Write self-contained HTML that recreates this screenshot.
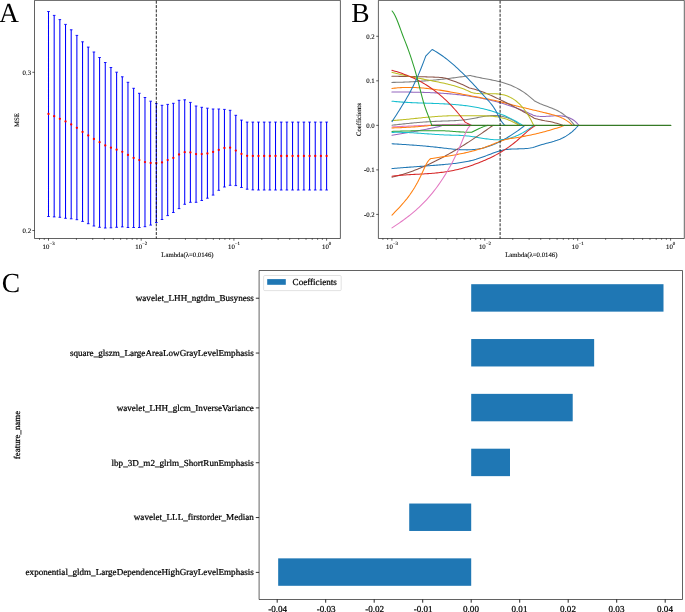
<!DOCTYPE html>
<html><head><meta charset="utf-8"><style>
html,body{margin:0;padding:0;background:#fff;}
body{width:685px;height:612px;overflow:hidden;font-family:"Liberation Serif",serif;}
svg{display:block;} text{-webkit-font-smoothing:antialiased;}
</style></head><body>
<svg style="will-change:transform" text-rendering="geometricPrecision" width="685" height="612" viewBox="0 0 685 612">
<rect width="685" height="612" fill="#fff"/>
<path d="M48.5 11.5V216.5M54.18 15.4V216.9M59.85 19.6V217.3M65.53 24.4V218.3M71.2 29.8V218.8M76.88 35.4V219.7M82.55 41.8V221.4M88.23 47.1V223.7M93.9 52V226M99.58 57.5V227.3M105.26 62.5V228M110.93 67.5V227.8M116.61 72.2V227.3M122.28 76.8V226.9M127.96 82.3V227.5M133.63 88.3V227.5M139.31 93.3V227.5M144.98 97.5V226.7M150.66 101.2V225.1M156.33 103.6V222.5M162.01 105.3V219.5M167.69 104.4V215.6M173.36 103.3V212.5M179.04 100.3V208.6M184.71 99.8V204.3M190.39 102.4V202.3M196.06 106V202.3M201.74 107.3V200.5M207.41 108.2V198.2M213.09 109V195.1M218.77 109V190.3M224.44 109.4V187M230.12 110.3V185.3M235.79 115.3V185.6M241.47 120.1V187.5M247.14 122.1V189.2M252.82 122.1V189.9M258.49 122.1V190M264.17 122.1V190M269.84 122.1V190M275.52 122.1V190M281.2 122.1V190M286.87 122.1V190M292.55 122.1V190M298.22 122.1V190M303.9 122.1V190M309.57 122.1V190M315.25 122.1V190M320.92 122.1V190M326.6 122.1V190" stroke="#0000ff" stroke-width="1.05" fill="none"/>
<path d="M47.2 11.5h2.6M47.2 216.5h2.6M52.88 15.4h2.6M52.88 216.9h2.6M58.55 19.6h2.6M58.55 217.3h2.6M64.23 24.4h2.6M64.23 218.3h2.6M69.9 29.8h2.6M69.9 218.8h2.6M75.58 35.4h2.6M75.58 219.7h2.6M81.25 41.8h2.6M81.25 221.4h2.6M86.93 47.1h2.6M86.93 223.7h2.6M92.6 52h2.6M92.6 226h2.6M98.28 57.5h2.6M98.28 227.3h2.6M103.96 62.5h2.6M103.96 228h2.6M109.63 67.5h2.6M109.63 227.8h2.6M115.31 72.2h2.6M115.31 227.3h2.6M120.98 76.8h2.6M120.98 226.9h2.6M126.66 82.3h2.6M126.66 227.5h2.6M132.33 88.3h2.6M132.33 227.5h2.6M138.01 93.3h2.6M138.01 227.5h2.6M143.68 97.5h2.6M143.68 226.7h2.6M149.36 101.2h2.6M149.36 225.1h2.6M155.03 103.6h2.6M155.03 222.5h2.6M160.71 105.3h2.6M160.71 219.5h2.6M166.39 104.4h2.6M166.39 215.6h2.6M172.06 103.3h2.6M172.06 212.5h2.6M177.74 100.3h2.6M177.74 208.6h2.6M183.41 99.8h2.6M183.41 204.3h2.6M189.09 102.4h2.6M189.09 202.3h2.6M194.76 106h2.6M194.76 202.3h2.6M200.44 107.3h2.6M200.44 200.5h2.6M206.11 108.2h2.6M206.11 198.2h2.6M211.79 109h2.6M211.79 195.1h2.6M217.47 109h2.6M217.47 190.3h2.6M223.14 109.4h2.6M223.14 187h2.6M228.82 110.3h2.6M228.82 185.3h2.6M234.49 115.3h2.6M234.49 185.6h2.6M240.17 120.1h2.6M240.17 187.5h2.6M245.84 122.1h2.6M245.84 189.2h2.6M251.52 122.1h2.6M251.52 189.9h2.6M257.19 122.1h2.6M257.19 190h2.6M262.87 122.1h2.6M262.87 190h2.6M268.54 122.1h2.6M268.54 190h2.6M274.22 122.1h2.6M274.22 190h2.6M279.9 122.1h2.6M279.9 190h2.6M285.57 122.1h2.6M285.57 190h2.6M291.25 122.1h2.6M291.25 190h2.6M296.92 122.1h2.6M296.92 190h2.6M302.6 122.1h2.6M302.6 190h2.6M308.27 122.1h2.6M308.27 190h2.6M313.95 122.1h2.6M313.95 190h2.6M319.62 122.1h2.6M319.62 190h2.6M325.3 122.1h2.6M325.3 190h2.6" stroke="#0000ff" stroke-width="0.9" fill="none"/>
<circle cx="48.5" cy="114" r="1.15" fill="#ff0000"/>
<circle cx="54.18" cy="116.2" r="1.15" fill="#ff0000"/>
<circle cx="59.85" cy="118.8" r="1.15" fill="#ff0000"/>
<circle cx="65.53" cy="121.4" r="1.15" fill="#ff0000"/>
<circle cx="71.2" cy="124.4" r="1.15" fill="#ff0000"/>
<circle cx="76.88" cy="127.8" r="1.15" fill="#ff0000"/>
<circle cx="82.55" cy="131.9" r="1.15" fill="#ff0000"/>
<circle cx="88.23" cy="135.4" r="1.15" fill="#ff0000"/>
<circle cx="93.9" cy="139" r="1.15" fill="#ff0000"/>
<circle cx="99.58" cy="142.2" r="1.15" fill="#ff0000"/>
<circle cx="105.26" cy="145.4" r="1.15" fill="#ff0000"/>
<circle cx="110.93" cy="147.7" r="1.15" fill="#ff0000"/>
<circle cx="116.61" cy="149.7" r="1.15" fill="#ff0000"/>
<circle cx="122.28" cy="151.8" r="1.15" fill="#ff0000"/>
<circle cx="127.96" cy="154.9" r="1.15" fill="#ff0000"/>
<circle cx="133.63" cy="157.9" r="1.15" fill="#ff0000"/>
<circle cx="139.31" cy="160.1" r="1.15" fill="#ff0000"/>
<circle cx="144.98" cy="162.1" r="1.15" fill="#ff0000"/>
<circle cx="150.66" cy="163" r="1.15" fill="#ff0000"/>
<circle cx="156.33" cy="163.1" r="1.15" fill="#ff0000"/>
<circle cx="162.01" cy="162.4" r="1.15" fill="#ff0000"/>
<circle cx="167.69" cy="160.1" r="1.15" fill="#ff0000"/>
<circle cx="173.36" cy="157.9" r="1.15" fill="#ff0000"/>
<circle cx="179.04" cy="154.5" r="1.15" fill="#ff0000"/>
<circle cx="184.71" cy="152.2" r="1.15" fill="#ff0000"/>
<circle cx="190.39" cy="152.4" r="1.15" fill="#ff0000"/>
<circle cx="196.06" cy="154.1" r="1.15" fill="#ff0000"/>
<circle cx="201.74" cy="154.1" r="1.15" fill="#ff0000"/>
<circle cx="207.41" cy="153.5" r="1.15" fill="#ff0000"/>
<circle cx="213.09" cy="151.9" r="1.15" fill="#ff0000"/>
<circle cx="218.77" cy="149.9" r="1.15" fill="#ff0000"/>
<circle cx="224.44" cy="148" r="1.15" fill="#ff0000"/>
<circle cx="230.12" cy="147.7" r="1.15" fill="#ff0000"/>
<circle cx="235.79" cy="150.6" r="1.15" fill="#ff0000"/>
<circle cx="241.47" cy="153.9" r="1.15" fill="#ff0000"/>
<circle cx="247.14" cy="155.8" r="1.15" fill="#ff0000"/>
<circle cx="252.82" cy="155.9" r="1.15" fill="#ff0000"/>
<circle cx="258.49" cy="156" r="1.15" fill="#ff0000"/>
<circle cx="264.17" cy="156" r="1.15" fill="#ff0000"/>
<circle cx="269.84" cy="156" r="1.15" fill="#ff0000"/>
<circle cx="275.52" cy="156" r="1.15" fill="#ff0000"/>
<circle cx="281.2" cy="156" r="1.15" fill="#ff0000"/>
<circle cx="286.87" cy="156" r="1.15" fill="#ff0000"/>
<circle cx="292.55" cy="156" r="1.15" fill="#ff0000"/>
<circle cx="298.22" cy="156" r="1.15" fill="#ff0000"/>
<circle cx="303.9" cy="156" r="1.15" fill="#ff0000"/>
<circle cx="309.57" cy="156" r="1.15" fill="#ff0000"/>
<circle cx="315.25" cy="156" r="1.15" fill="#ff0000"/>
<circle cx="320.92" cy="156" r="1.15" fill="#ff0000"/>
<circle cx="326.6" cy="156" r="1.15" fill="#ff0000"/>
<line x1="156.3" y1="0.7" x2="156.3" y2="238.5" stroke="#000" stroke-width="0.85" stroke-dasharray="3.0 1.365"/>
<path d="M34.5 0.4H340.4V238.5H34.5Z" fill="none" stroke="#000" stroke-width="0.62"/>
<path d="M39.52 238.5v1.3M44.26 238.5v1.3M48.5 238.5v2.2M76.41 238.5v1.3M92.73 238.5v1.3M104.31 238.5v1.3M113.29 238.5v1.3M120.63 238.5v1.3M126.84 238.5v1.3M132.22 238.5v1.3M136.96 238.5v1.3M141.2 238.5v2.2M169.11 238.5v1.3M185.43 238.5v1.3M197.01 238.5v1.3M205.99 238.5v1.3M213.33 238.5v1.3M219.54 238.5v1.3M224.92 238.5v1.3M229.66 238.5v1.3M233.9 238.5v2.2M261.81 238.5v1.3M278.13 238.5v1.3M289.71 238.5v1.3M298.69 238.5v1.3M306.03 238.5v1.3M312.24 238.5v1.3M317.62 238.5v1.3M322.36 238.5v1.3M326.6 238.5v2.2M34.5 72.3h-2.2M34.5 230.5h-2.2" stroke="#000" stroke-width="0.62" fill="none"/>
<g font-family="Liberation Serif" fill="#000" stroke="#000" stroke-width="0.1" paint-order="stroke">
<text x="31" y="74.6" font-size="6.75" text-anchor="end" >0.3</text>
<text x="31" y="232.8" font-size="6.75" text-anchor="end" >0.2</text>
<text x="48.6" y="248.7" font-size="6.8" text-anchor="middle">10<tspan dy="-4.0" font-size="4.9">−3</tspan></text>
<text x="141.3" y="248.7" font-size="6.8" text-anchor="middle">10<tspan dy="-4.0" font-size="4.9">−2</tspan></text>
<text x="234" y="248.7" font-size="6.8" text-anchor="middle">10<tspan dy="-4.0" font-size="4.9">−1</tspan></text>
<text x="326.7" y="248.7" font-size="6.8" text-anchor="middle">10<tspan dy="-4.0" font-size="4.9">0</tspan></text>
<text x="187.5" y="256.6" font-size="6.75" text-anchor="middle" >Lambda(λ=0.0146)</text>
<text transform="translate(19.3 120.1) rotate(-90)" font-size="6.75" text-anchor="middle">MSE</text>
</g>
<g fill="none" stroke-width="1.05" stroke-linejoin="round" stroke-linecap="round">
<path d="M392 125.2 393.5 125.03 395 124.86 396.5 124.7 398 124.53 399.5 124.37 401 124.2 402.5 124.04 404 123.89 405.5 123.73 407 123.58 408.5 123.42 410 123.28 411.5 123.13 413 122.99 414.5 122.85 416 122.71 417.5 122.58 419 122.46 420.5 122.33 422 122.21 423.5 122.1 425 121.99 426.5 121.88 428 121.78 429.5 121.69 431 121.6 432.5 121.51 434 121.43 435.5 121.36 437 121.29 438.5 121.23 440 121.17 441.5 121.12 443 121.07 444.5 121.03 446 120.98 447.5 120.93 449 120.88 450.5 120.82 452 120.75 453.5 120.68 455 120.61 456.5 120.52 458 120.42 459.5 120.3 461 120.18 462.5 120.03 464 119.87 465.5 119.69 467 119.5 468.5 119.28 470 119.04 471.5 118.77 473 118.5 474.5 118.21 476 117.92 477.5 117.62 479 117.32 480.5 117.04 482 116.76 483.5 116.5 485 116.26 486.5 116.04 488 115.86 489.5 115.71 491 115.59 492.5 115.52 494 115.5 495.5 115.52 497 115.61 498.5 115.74 500 115.94 501.5 116.2 503 116.52 504.5 116.9 506 117.35 507.5 117.86 509 118.44 510.5 119.1 512 119.82 513.5 120.62 515 121.49 516.5 122.44 518 123.46 519.5 124.57 520.5 125.35" stroke="#7f7f7f"/>
<path d="M392 120.6 393.5 120.49 395 120.38 396.5 120.26 398 120.14 399.5 120.01 401 119.87 402.5 119.74 404 119.59 405.5 119.45 407 119.3 408.5 119.15 410 118.99 411.5 118.84 413 118.68 414.5 118.52 416 118.37 417.5 118.21 419 118.06 420.5 117.9 422 117.75 423.5 117.6 425 117.45 426.5 117.31 428 117.17 429.5 117.03 431 116.9 432.5 116.77 434 116.65 435.5 116.54 437 116.43 438.5 116.33 440 116.23 441.5 116.15 443 116.07 444.5 116 446 115.94 447.5 115.88 449 115.84 450.5 115.8 452 115.76 453.5 115.74 455 115.71 456.5 115.7 458 115.69 459.5 115.68 461 115.67 462.5 115.67 464 115.68 465.5 115.69 467 115.69 468.5 115.71 470 115.72 471.5 115.73 473 115.75 474.5 115.76 476 115.78 477.5 115.8 479 115.81 480.5 115.83 482 115.84 483.5 115.86 485 115.89 486.5 115.93 488 115.98 489.5 116.05 491 116.15 492.5 116.27 494 116.43 495.5 116.61 497 116.84 498.5 117.1 500 117.4 501.5 117.75 503 118.14 504.5 118.57 506 119.05 507.5 119.58 509 120.15 510.5 120.78 512 121.46 513.5 122.19 515 122.97 516.5 123.82 518 124.72 519 125.35" stroke="#bcbd22"/>
<path d="M392 126.9 393.5 126.83 395 126.75 396.5 126.68 398 126.61 399.5 126.53 401 126.46 402.5 126.39 404 126.32 405.5 126.25 407 126.18 408.5 126.11 410 126.04 411.5 125.97 413 125.91 414.5 125.84 416 125.77 417.5 125.71 419 125.64 420 125.6 420.5 125.58 422 125.51 423.5 125.44 425 125.37 426.5 125.3 428 125.23 429.5 125.16 431 125.09 432.5 125.02 434 124.96 435.5 124.9 437 124.84 438.5 124.78 440 124.73 441.5 124.68 443 124.64 444.5 124.61 445 124.6 446 124.58 447.5 124.55 449 124.53 450.5 124.5 452 124.47 453.5 124.45 455 124.42 456.5 124.4 458 124.38 459.5 124.36 461 124.35 462.5 124.33 464 124.32 465.5 124.31 467 124.3 468.5 124.3 469.4 124.3 470 124.39 471.5 125.1 472 125.35" stroke="#e377c2"/>
<path d="M392 127.9 393.5 127.88 395 127.84 396.5 127.8 398 127.75 399.5 127.7 401 127.64 402.5 127.57 404 127.5 405.5 127.42 407 127.34 408.5 127.26 410 127.17 411.5 127.07 413 126.98 414.5 126.88 416 126.78 417.5 126.67 419 126.57 420 126.5 420.5 126.46 422 126.34 423.5 126.21 425 126.06 426.5 125.9 428 125.74 429.5 125.57 431 125.4 431.4 125.35" stroke="#ff7f0e"/>
<path d="M392 135.3 393.5 135.07 395 134.83 396.5 134.59 398 134.34 399.5 134.09 401 133.84 402.5 133.58 404 133.33 405.5 133.06 407 132.8 408.5 132.53 410 132.26 411.5 131.99 413 131.72 414.5 131.44 416 131.16 417.5 130.88 419 130.59 420 130.4 420.5 130.3 422 130.02 423.5 129.74 425 129.46 426.5 129.18 428 128.89 429.5 128.61 431 128.31 432.5 128 434 127.69 435.5 127.36 437 127.01 438.5 126.65 440 126.27 441 126 441.5 125.85 443 125.35" stroke="#9467bd"/>
<path d="M392 131.4 393.5 131.35 395 131.3 396.5 131.25 398 131.21 399.5 131.16 401 131.12 402.5 131.07 404 131.03 405.5 130.99 407 130.96 408.5 130.93 410 130.9 411.5 130.87 413 130.85 414.5 130.83 416 130.82 417.5 130.81 419 130.8 420 130.8 420.5 130.8 422 130.8 423.5 130.8 425 130.8 426.5 130.8 428 130.8 429.5 130.8 431 130.8 432.5 130.8 434 130.8 435.5 130.8 437 130.8 438.5 130.8 440 130.8 441.5 130.8 441.9 130.8 443 130.81 444.5 130.84 446 130.9 447.5 130.98 449 131.07 450.5 131.18 452 131.29 453.5 131.41 455 131.53 456.5 131.65 458 131.77 459.5 131.88 461 131.97 462.5 132.05 463.8 132.1 464 132.11 465.5 132.15 467 132.2 468.5 132.24 470 132.27 471.5 132.3 471.7 132.3 473.2 131.49 474.7 130.71 476.2 129.96 477.7 129.24 479.2 128.55 480 128.2 480.7 127.89 482.2 127.24 483.7 126.62 485.2 126.08 486.1 125.8 486.7 125.64 488 125.35" stroke="#2ca02c"/>
<path d="M392 132.4 393.5 132.36 395 132.34 396.5 132.32 398 132.32 399.5 132.33 401 132.35 402.5 132.38 404 132.43 405.5 132.47 407 132.53 408.5 132.6 410 132.67 411.5 132.75 413 132.84 414.5 132.93 416 133.02 417.5 133.12 419 133.22 420.5 133.33 422 133.44 423.5 133.55 425 133.66 426.5 133.77 428 133.88 429.5 133.99 431 134.1 432.5 134.2 434 134.31 435.5 134.41 437 134.5 438.5 134.6 440 134.68 441.5 134.77 443 134.84 444.5 134.91 446 134.97 447.5 135.02 449 135.07 450.5 135.11 452 135.15 453.5 135.19 455 135.24 456.5 135.28 458 135.33 459.5 135.39 461 135.47 462.5 135.55 464 135.65 465.5 135.76 467 135.9 468.5 136.05 470 136.23 471.5 136.43 473 136.65 474.5 136.89 476 137.13 477.5 137.39 479 137.65 480.5 137.91 482 138.17 483.5 138.42 485 138.66 486.5 138.88 488 139.09 489.5 139.28 491 139.44 492.5 139.57 494 139.67 495.5 139.73 497 139.75 498.5 139.73 500 139.67 501.5 139.57 503 139.42 504.5 139.22 506 138.98 507.5 138.69 509 138.35 510.5 137.95 512 137.5 513.5 137 515 136.45 516.5 135.83 518 135.17 519.5 134.45 521 133.68 522.5 132.87 524 132.01 525.5 131.1 527 130.16 528.5 129.18 530 128.17 531.5 127.13 533 126.07 534 125.34" stroke="#17becf"/>
<path d="M392 143.8 393.5 143.88 395 143.97 396.5 144.05 398 144.14 399.5 144.23 401 144.32 402.5 144.41 404 144.5 405.5 144.6 407 144.7 408.5 144.8 410 144.9 411.5 145.01 413 145.12 414.5 145.23 416 145.35 417.5 145.46 419 145.58 420.5 145.71 422 145.83 423.5 145.96 425 146.1 426.5 146.23 428 146.37 429.5 146.52 431 146.66 432.5 146.81 434 146.97 435.5 147.13 437 147.29 438.5 147.45 440 147.62 441.5 147.8 443 147.97 444.5 148.15 446 148.33 447.5 148.5 449 148.67 450.5 148.84 452 149 453.5 149.15 455 149.29 456.5 149.42 458 149.53 459.5 149.63 461 149.71 462.5 149.78 464 149.82 465.5 149.85 467 149.85 468.5 149.82 470 149.77 471.5 149.7 473 149.59 474.5 149.45 476 149.28 477.5 149.08 479 148.84 480.5 148.56 482 148.25 483.5 147.89 485 147.5 486.5 147.07 488 146.6 489.5 146.09 491 145.55 492.5 144.98 494 144.37 495.5 143.73 497 143.05 498.5 142.34 500 141.6 501.5 140.83 503 140.04 504.5 139.21 506 138.35 507.5 137.47 509 136.55 510.5 135.62 512 134.65 513.5 133.67 515 132.65 516.5 131.62 518 130.56 519.5 129.48 521 128.38 522.5 127.26 524 126.12 525 125.35" stroke="#1f77b4"/>
<path d="M392 168.6 393.5 168.46 395 168.33 396.5 168.2 398 168.08 399.5 167.95 401 167.83 402.5 167.71 404 167.59 405.5 167.47 407 167.36 408.5 167.24 410 167.13 411.5 167.02 413 166.91 414.5 166.8 416 166.69 417.5 166.58 419 166.47 420.5 166.37 422 166.26 423.5 166.15 425 166.04 426.5 165.93 428 165.82 429.5 165.7 431 165.59 432.5 165.47 434 165.36 435.5 165.24 437 165.12 438.5 165 440 164.87 441.5 164.74 443 164.61 444.5 164.48 446 164.34 447.5 164.2 449 164.06 450.5 163.91 452 163.75 453.5 163.58 455 163.41 456.5 163.22 458 163.02 459.5 162.81 461 162.58 462.5 162.34 464 162.08 465.5 161.81 467 161.52 468.5 161.2 470 160.87 471.5 160.52 473 160.14 474.5 159.73 476 159.31 477.5 158.85 479 158.37 480.5 157.86 482 157.32 483.5 156.77 485 156.2 486.5 155.62 488 155.04 489.5 154.46 491 153.89 492.5 153.32 494 152.77 495.5 152.25 497 151.75 498.5 151.28 500 150.84 501.5 150.45 503 150.1 504.5 149.81 506 149.57 507.5 149.38 509 149.23 510.5 149.11 512 149.03 513.5 148.97 515 148.93 516.5 148.9 518 148.87 519.5 148.84 521 148.8 522.5 148.75 524 148.68 525.5 148.58 527 148.45 528.5 148.28 530 148.06 531.5 147.79 533 147.46 534.5 147.07 536 146.61 537.5 146.12 539 145.6 540.5 145.08 542 144.59 543.5 144.14 545 143.72 546.5 143.32 548 142.94 549.5 142.55 551 142.15 552.5 141.73 554 141.29 555.5 140.81 557 140.3 558.5 139.75 560 139.15 561.5 138.49 563 137.77 564.5 136.98 566 136.12 567.5 135.18 569 134.15 570.5 133.03 572 131.81 573.5 130.49 575 129.05 576.5 127.5 578 125.82 578.4 125.35" stroke="#1f77b4"/>
<path d="M392 177.2 393.5 176.85 395 176.48 396.5 176.1 398 175.71 399.5 175.29 401 174.86 402.5 174.42 404 173.96 405.5 173.48 407 172.99 408.5 172.49 410 171.97 411.5 171.44 413 170.89 414.5 170.33 416 169.75 417.5 169.16 419 168.56 420.5 167.94 422 167.31 423.5 166.67 425 166.02 426.5 165.35 428 164.67 429.5 163.97 431 163.27 432.5 162.55 434 161.82 435.5 161.08 437 160.32 438.5 159.56 440 158.78 441.5 157.99 443 157.19 444.5 156.38 446 155.56 447.5 154.73 449 153.89 450.5 153.04 452 152.18 453.5 151.31 455 150.43 456.5 149.54 458 148.64 459.5 147.73 461 146.81 462.5 145.88 464 144.94 465.5 144 467 143.05 468.5 142.08 470 141.12 471.5 140.14 473 139.15 474.5 138.16 476 137.16 477.5 136.15 479 135.14 480.5 134.11 482 133.09 483.5 132.05 485 131.01 486.5 129.96 488 128.91 489.5 127.84 491 126.78 492.5 125.71 493 125.35" stroke="#8c564b"/>
<path d="M392 176.2 393.5 176.01 395 175.84 396.5 175.68 398 175.53 399.5 175.39 401 175.26 402.5 175.14 404 175.03 405.5 174.92 407 174.82 408.5 174.72 410 174.63 411.5 174.55 413 174.46 414.5 174.38 416 174.3 417.5 174.23 419 174.15 420.5 174.07 422 173.98 423.5 173.9 425 173.81 426.5 173.72 428 173.62 429.5 173.52 431 173.41 432.5 173.29 434 173.17 435.5 173.03 437 172.89 438.5 172.74 440 172.57 441.5 172.39 443 172.2 444.5 172 446 171.78 447.5 171.54 449 171.29 450.5 171.02 452 170.73 453.5 170.43 455 170.11 456.5 169.77 458 169.41 459.5 169.03 461 168.64 462.5 168.22 464 167.8 465.5 167.35 467 166.89 468.5 166.41 470 165.92 471.5 165.41 473 164.89 474.5 164.35 476 163.8 477.5 163.23 479 162.65 480.5 162.05 482 161.44 483.5 160.82 485 160.18 486.5 159.52 488 158.84 489.5 158.15 491 157.43 492.5 156.69 494 155.93 495.5 155.15 497 154.34 498.5 153.5 500 152.64 501.5 151.74 503 150.82 504.5 149.87 506 148.89 507.5 147.87 509 146.82 510.5 145.74 512 144.62 513.5 143.46 515 142.27 516.5 141.03 518 139.76 519.5 138.44 521 137.1 522.5 135.74 524 134.38 525.5 133.03 527 131.72 528.5 130.45 530 129.25 531.5 128.12 533 127.08 534.5 126.16 536 125.35" stroke="#d62728"/>
<path d="M392 215.1 393.5 213.54 395 211.99 396.5 210.44 398 208.87 399.5 207.28 401 205.65 402.5 203.97 404 202.24 405.5 200.44 407 198.57 408.5 196.6 410 194.54 411.5 192.37 413 190.08 414.5 187.66 416 185.1 417.5 182.39 419 179.51 420.5 176.47 422 173.25 423.5 169.93 425 166.7 426.5 163.76 428 161.29 429.5 159.49 431 158.54 432.1 158.5 433.6 158.26 435.1 158.02 436.6 157.79 438.1 157.56 439.6 157.32 441.1 157.09 442.6 156.86 444.1 156.63 445.6 156.4 447.1 156.16 448.6 155.92 450.1 155.68 451.6 155.43 453.1 155.18 454.6 154.92 456.1 154.66 457.6 154.38 459.1 154.1 460.6 153.81 462.1 153.51 463.6 153.2 465.1 152.88 466.6 152.55 468.1 152.2 469.6 151.84 471.1 151.47 472.6 151.08 474.1 150.68 475.6 150.26 477.1 149.82 478.6 149.37 480.1 148.9 481.6 148.41 483.1 147.9 484.6 147.38 486.1 146.84 487.6 146.28 489.1 145.72 490.6 145.14 492.1 144.55 493.6 143.95 495.1 143.35 496.6 142.73 498.1 142.13 499.6 141.53 501.1 140.97 502.6 140.44 504.1 139.96 505.6 139.54 507.1 139.18 508.6 138.87 510.1 138.6 511.6 138.36 513.1 138.13 514.6 137.9 516.1 137.67 517.6 137.43 519.1 137.18 520.6 136.92 522.1 136.66 523.6 136.39 525.1 136.11 526.6 135.82 528.1 135.52 529.6 135.22 531.1 134.9 532.6 134.58 534.1 134.25 535.6 133.91 537.1 133.56 538.6 133.2 540.1 132.83 541.6 132.46 543.1 132.07 544.6 131.67 546.1 131.26 547.6 130.85 549.1 130.42 550.6 129.98 552.1 129.54 553.6 129.08 555.1 128.61 556.6 128.13 558.1 127.64 559.6 127.14 561.1 126.63 562.6 126.1 564.1 125.57 564.7 125.35" stroke="#ff7f0e"/>
<path d="M392 227.9 393.5 226.9 395 225.9 396.5 224.89 398 223.86 399.5 222.83 401 221.78 402.5 220.72 404 219.63 405.5 218.53 407 217.4 408.5 216.25 410 215.08 411.5 213.87 413 212.64 414.5 211.37 416 210.06 417.5 208.72 419 207.34 420.5 205.92 422 204.46 423.5 202.95 425 201.39 426.5 199.79 428 198.13 429.5 196.42 431 194.65 432.5 192.83 434 190.94 435.5 188.99 437 186.98 438.5 184.91 440 182.76 441.5 180.55 443 178.26 444.5 175.9 446 173.46 447.5 170.94 449 168.35 450.5 165.67 452 162.9 453.5 160.05 455 157.09 456.5 154.01 458 150.8 459.5 147.44 461 143.92 462.5 140.24 464 136.57 465.5 133.1 467 130.03 468.5 127.56 470 125.89 470.9 125.35" stroke="#e377c2"/>
<path d="M391.9 101.2 393.4 101.35 394.9 101.5 396.4 101.64 397.9 101.77 399.4 101.89 400.9 102.01 402.4 102.11 403.9 102.21 405.4 102.31 406.9 102.39 408.4 102.48 409.9 102.55 411.4 102.62 412.9 102.69 414.4 102.76 415.9 102.82 417.4 102.87 418.9 102.93 420.4 102.98 421.9 103.03 423.4 103.08 424.9 103.13 426.4 103.17 427.9 103.22 429.4 103.27 430.9 103.32 432.4 103.37 433.9 103.42 435.4 103.47 436.9 103.53 438.4 103.59 439.9 103.65 441.4 103.72 442.9 103.79 444.4 103.86 445.9 103.94 447.4 104.03 448.9 104.12 450.4 104.22 451.9 104.32 453.4 104.43 454.9 104.55 456.4 104.68 457.9 104.81 459.4 104.96 460.9 105.11 462.4 105.28 463.9 105.45 465.4 105.64 466.9 105.83 468.4 106.04 469.9 106.26 471.4 106.49 472.9 106.73 474.4 106.99 475.9 107.26 477.4 107.55 478.9 107.85 480.4 108.16 481.9 108.49 483.4 108.83 484.9 109.2 486.4 109.57 487.9 109.97 489.4 110.38 490.9 110.81 492.4 111.26 493.9 111.73 495.4 112.22 496.9 112.72 498.4 113.25 499.9 113.8 501.4 114.38 502.9 114.97 504.4 115.6 505.9 116.24 507.4 116.92 508.9 117.62 510.4 118.35 511.9 119.1 513.4 119.89 514.9 120.71 516.4 121.56 517.9 122.44 519.4 123.35 520.9 124.3 522.4 125.28 522.5 125.35" stroke="#17becf"/>
<path d="M391.9 92 393.4 92 394.9 92.01 396.4 92.01 397.9 92.02 399.4 92.03 400.9 92.03 402.4 92.04 403.9 92.05 405.4 92.06 406.9 92.08 408.4 92.09 409.9 92.11 411.4 92.13 412.9 92.15 414.4 92.17 415.9 92.2 417.4 92.23 418.9 92.26 420.4 92.3 421.9 92.34 423.4 92.38 424.9 92.43 426.4 92.47 427.9 92.53 429.4 92.58 430.9 92.65 432.4 92.71 433.9 92.78 435.4 92.86 436.9 92.94 438.4 93.02 439.9 93.11 441.4 93.21 442.9 93.31 444.4 93.41 445.9 93.52 447.4 93.64 448.9 93.76 450.4 93.89 451.9 94.03 453.4 94.17 454.9 94.32 456.4 94.48 457.9 94.64 459.4 94.81 460.9 94.99 462.4 95.17 463.9 95.36 465.4 95.56 466.9 95.77 468.4 95.99 469.9 96.21 471.4 96.44 472.9 96.69 474.4 96.93 475.9 97.19 477.4 97.46 478.9 97.74 480.4 98.02 481.9 98.32 483.4 98.62 484.9 98.94 486.4 99.26 487.9 99.59 489.4 99.94 490.9 100.29 492.4 100.66 493.9 101.04 495.4 101.42 496.9 101.82 498.4 102.23 499.9 102.65 501.4 103.08 502.9 103.52 504.4 103.98 505.9 104.45 507.4 104.92 508.9 105.42 510.4 105.92 511.9 106.43 513.4 106.96 514.9 107.5 516.4 108.06 517.9 108.63 519.4 109.21 520.9 109.8 522.4 110.41 523.9 111.03 525.4 111.67 526.9 112.32 528.4 112.98 529.9 113.66 531.4 114.35 532.9 115.06 533.2 115.2 534.7 115.62 536.2 115.94 537.7 116.18 539.2 116.34 540.7 116.44 542.2 116.48 543.7 116.47 545.2 116.42 546.7 116.34 548.2 116.25 549.7 116.14 551.2 116.02 552.7 115.92 554.2 115.83 555.7 115.76 557.2 115.73 558.7 115.75 560.2 115.81 561.7 115.93 563.2 116.13 564.7 116.4 566.2 116.77 567.7 117.23 569.2 117.79 570.7 118.47 572.2 119.3 573.7 120.28 575.2 121.46 576.7 122.85 578.2 124.49 578.9 125.35" stroke="#9467bd"/>
<path d="M391.9 88.5 393.4 88.31 394.9 88.14 396.4 87.99 397.9 87.85 399.4 87.74 400.9 87.64 402.4 87.56 403.9 87.5 405.4 87.46 406.9 87.43 408.4 87.42 409.9 87.42 411.4 87.44 412.9 87.47 414.4 87.52 415.9 87.58 417.4 87.66 418.9 87.75 420.4 87.85 421.9 87.96 423.4 88.09 424.9 88.22 426.4 88.37 427.9 88.53 429.4 88.7 430.9 88.88 432.4 89.06 433.9 89.26 435.4 89.47 436.9 89.68 438.4 89.9 439.9 90.13 441.4 90.37 442.9 90.61 444.4 90.86 445.9 91.11 447.4 91.37 448.9 91.63 450.4 91.9 451.9 92.18 453.4 92.45 454.9 92.73 456.4 93.01 457.9 93.3 459.4 93.59 460.9 93.87 462.4 94.16 463.9 94.46 465.4 94.75 466.9 95.04 468.4 95.33 469.9 95.62 471.4 95.91 472.9 96.2 474.4 96.49 475.9 96.78 477.4 97.07 478.9 97.35 480.4 97.63 481.9 97.91 483.4 98.19 484.9 98.47 486.4 98.76 487.9 99.05 489.4 99.34 490.9 99.64 492.4 99.94 493.9 100.25 495.4 100.58 496.9 100.91 498.4 101.26 499.9 101.62 501.4 101.99 502.9 102.38 504.4 102.77 505.9 103.17 507.4 103.57 508.9 103.97 510.4 104.37 511.9 104.76 513.4 105.15 514.9 105.53 516.4 105.91 517.9 106.28 519.4 106.65 520.9 107.02 522.4 107.39 523.9 107.75 525.4 108.11 526.9 108.47 528.4 108.83 529.9 109.18 531.4 109.54 532.9 109.89 534.4 110.25 535.9 110.6 537.4 110.96 538.9 111.31 540.4 111.67 541.9 112.03 543.4 112.39 544.9 112.76 546.4 113.13 547.9 113.5 549.4 113.87 550.9 114.25 552.4 114.64 553.9 115.04 555.4 115.48 556.9 115.95 558.4 116.47 559.9 117.04 561.4 117.68 562.9 118.4 564.4 119.19 565.9 120.08 567.4 121.08 568.9 122.18 570.4 123.41 571.9 124.77 572.5 125.35" stroke="#ff7f0e"/>
<path d="M391.9 82.4 393.4 82.39 394.9 82.37 396.4 82.34 397.9 82.32 399.4 82.28 400.9 82.24 402.4 82.19 403.9 82.14 405.4 82.08 406.9 82.02 408.4 81.96 409.9 81.88 411.4 81.81 412.9 81.72 414.4 81.64 415.9 81.54 417.4 81.45 418.9 81.35 420.4 81.24 421.9 81.13 423.4 81.01 424.9 80.89 426.4 80.77 427.9 80.64 429.4 80.51 430.9 80.37 432.4 80.23 433.9 80.09 435.4 79.94 436.9 79.79 438.4 79.63 439.9 79.47 441.4 79.31 442.9 79.14 444.4 78.97 445.9 78.79 447.4 78.61 448.9 78.43 450.4 78.25 451.9 78.06 453.4 77.87 454.9 77.67 456.4 77.48 457.9 77.28 459.4 77.07 460.9 76.87 462.4 76.66 463.9 76.45 465.4 76.23 466.9 76.01 468.4 75.8 469.9 75.57 470.4 75.5 471.9 75.9 473.4 76.27 474.9 76.62 476.4 76.96 477.9 77.28 479.4 77.58 480.9 77.88 482.4 78.17 483.9 78.45 485.4 78.74 486.9 79.02 488.4 79.3 489.9 79.58 491.4 79.88 492.9 80.18 494.4 80.49 495.9 80.82 497.4 81.16 498.9 81.52 500.4 81.9 501.9 82.31 503.4 82.74 504.9 83.19 506.4 83.68 507.9 84.2 509.4 84.76 510.9 85.35 512.4 85.98 513.9 86.66 515.4 87.37 516.9 88.13 518.4 88.94 519.9 89.8 521.4 90.7 522.9 91.66 524.4 92.67 525.9 93.73 527.4 94.86 528.9 96.04 530.4 97.28 531.9 98.58 533.4 99.95 534.2 100.7 535.7 101.53 537.2 102.3 538.7 103.01 540.2 103.68 541.7 104.31 543.2 104.9 544.7 105.48 546.2 106.04 547.7 106.59 549.2 107.15 550.7 107.72 552.2 108.32 553.7 108.94 555.2 109.6 556.7 110.31 558.2 111.08 559.7 111.91 561.2 112.81 562.7 113.79 564.2 114.86 565.7 116.04 567.2 117.31 568.7 118.71 570.2 120.23 571.7 121.88 573.2 123.67 574.5 125.35" stroke="#7f7f7f"/>
<path d="M391.9 76.3 393.4 76.31 394.9 76.32 396.4 76.33 397.9 76.35 399.4 76.36 400.9 76.38 402.4 76.41 403.9 76.43 405.4 76.45 406.9 76.48 408.4 76.51 409.9 76.54 411.4 76.56 412.9 76.6 414.4 76.63 415.9 76.66 417.4 76.69 417.8 76.7 418.9 76.72 420.4 76.76 421.9 76.79 423.4 76.82 424.9 76.85 426.4 76.89 427.9 76.92 429.4 76.97 430.9 77.01 432.4 77.07 433.9 77.12 435.4 77.19 436.9 77.26 438.4 77.34 439.9 77.43 441.4 77.53 442.3 77.6 442.9 77.66 444.4 77.95 445.9 78.37 447.4 78.87 448.9 79.4 449.8 79.7 450.4 79.9 451.9 80.41 453.4 80.94 454.9 81.49 456.4 82.06 457.9 82.66 459.4 83.28 460.9 83.92 462.4 84.58 463.9 85.27 465.4 85.98 466.9 86.72 468.4 87.48 469.4 88 470.9 88.3 472.4 88.65 473.9 89.03 475.4 89.45 476.9 89.9 478.4 90.38 479.9 90.89 481.4 91.43 482.9 91.99 484.4 92.58 485.9 93.19 487.4 93.82 488.9 94.47 490.4 95.13 491.9 95.81 493.4 96.51 494.9 97.21 496.4 97.93 497.9 98.65 499.4 99.38 500.9 100.11 502.4 100.84 503.9 101.58 505.4 102.32 506.9 103.07 508.4 103.81 509.9 104.57 511.4 105.33 512.9 106.09 514.4 106.86 515.9 107.63 517.4 108.42 518.9 109.22 520.4 110.03 521.9 110.85 523.4 111.68 524.9 112.53 526.4 113.39 527.9 114.28 529.4 115.18 530.9 116.1 532.4 117.04 533.9 118 534.2 118.2 535.7 118.63 537.2 119.04 538.7 119.42 540.2 119.78 541.7 120.12 543.2 120.44 544 120.6 544.7 120.73 546.2 120.97 547.7 121.2 549.2 121.45 550 121.6 550.7 121.75 552.2 122.09 553.7 122.48 555.2 122.89 556.7 123.33 558.2 123.79 559.7 124.27 559.8 124.3 561.2 124.78 562.7 125.35" stroke="#8c564b"/>
<path d="M391.9 72.3 393.4 72.69 394.9 73.08 396.4 73.46 397.9 73.82 399.4 74.18 400.9 74.53 402.4 74.87 403.9 75.21 405.4 75.54 406.9 75.86 408.4 76.18 409.9 76.49 411.4 76.8 412.9 77.1 414.4 77.4 415.9 77.7 417.4 77.99 418.9 78.28 420.4 78.57 421.9 78.86 423.4 79.14 424.9 79.43 426.4 79.72 427.9 80.01 429.4 80.3 430.9 80.59 432.4 80.88 433.9 81.17 435.4 81.47 436.9 81.77 438.4 82.08 439.9 82.39 441.4 82.71 442.9 83.03 444.4 83.36 445.9 83.7 447.4 84.05 448.9 84.41 450.4 84.79 451.9 85.19 453.4 85.6 454.9 86.03 456.4 86.48 457.9 86.96 459.4 87.46 460.9 87.98 462.4 88.53 463.9 89.11 465.4 89.72 466.9 90.36 468.4 91.04 469.9 91.75 471.4 92.5 472.9 92.84 474.4 93.11 475.9 93.32 477.4 93.48 478.9 93.6 480.4 93.67 481.9 93.72 483.4 93.74 484.9 93.74 486.4 93.73 487.9 93.72 489.4 93.7 490.9 93.7 492.4 93.71 493.9 93.74 495.4 93.8 496.9 93.89 498.4 94.02 499.9 94.21 501.4 94.44 502.9 94.74 504.4 95.1 505.9 95.54 507.4 96.06 508.9 96.67 510.4 97.37 511.9 98.17 513.4 99.09 514.9 100.11 516.4 101.25 517.9 102.53 519.4 103.93 520.9 105.48 522.4 107.18 523.9 109.02 525.4 111.03 526.9 113.21 528.4 115.56 529.9 118.09 531.4 120.81 532.9 123.72 533.7 125.35" stroke="#bcbd22"/>
<path d="M391.9 70.3 393.4 70.73 394.9 71.16 396.4 71.62 397.9 72.09 399.4 72.57 400.9 73.08 402.4 73.6 403.9 74.14 405.4 74.7 406.9 75.28 408.4 75.88 409.9 76.5 411.4 77.15 412.9 77.82 414.4 78.51 415.9 79.23 417.4 79.98 418.9 80.75 420.4 81.55 421.9 82.38 423.4 83.24 424.9 84.13 426.4 85.05 427.9 86.01 429.4 86.99 430.9 88.01 432.4 89.06 433.9 90.15 435.4 91.27 436.9 92.43 438.4 93.63 439.9 94.87 441.4 96.14 442.9 97.45 444.4 98.81 445.9 100.21 447.4 101.65 448.9 103.13 450.4 104.65 451.9 106.23 453.4 107.84 454.9 109.5 456.4 111.21 457.9 112.97 459.4 114.78 460.9 116.64 462.4 118.54 463.9 120.5 465.1 122.1 466.6 122.9 468.1 123.74 468.2 123.8 469.6 124.62 470.8 125.35" stroke="#d62728"/>
<path d="M392 121.6 393.5 119.32 395 117.01 396.5 114.67 398 112.3 399.5 109.91 400 109.1 401 107.49 402.5 105.07 404 102.64 405.5 100.15 407 97.6 408.5 94.94 408.8 94.4 410 92.19 411.5 89.34 413 86.4 414.5 83.35 416 80.17 416.9 78.2 417.5 76.86 419 73.39 420.5 69.78 422 66.03 423.5 62.14 425 58.12 425.7 56.2 432.1 49.5 433.6 50.31 435.1 51.16 436.6 52.05 438.1 52.98 439.6 53.96 441.1 54.97 442.6 56.03 444.1 57.12 445.6 58.25 447.1 59.41 448.6 60.6 450.1 61.83 451.6 63.09 453.1 64.39 454.6 65.71 456.1 67.06 457.6 68.43 459.1 69.83 460.6 71.26 462.1 72.71 463.6 74.19 465.1 75.68 466.6 77.2 468.1 78.73 469.6 80.28 471.1 81.85 472.6 83.44 474.1 85.04 475.6 86.65 477.1 88.27 478.6 89.91 480.1 91.55 481.6 93.2 483.1 94.86 484.6 96.52 486.1 98.18 487.6 99.85 489.1 101.52 490.6 103.26 492.1 105.13 493.6 107.23 495.1 109.62 496.6 112.34 498.1 115.21 499.6 118.06 501.1 120.7 502.6 122.93 504.1 124.58 505.3 125.35" stroke="#1f77b4"/>
<path d="M392.1 11 393.6 12.96 395.1 15.69 396.6 19.02 398.1 22.77 399.6 26.79 401.1 30.92 402.6 34.98 404.1 38.86 405.6 42.66 407.1 46.53 408.6 50.6 410.1 54.9 411.6 59.4 413.1 64.09 414.6 68.96 416.1 74.09 417.6 79.58 419.1 85.42 420.6 91.38 422.1 97.18 423.6 102.57 425.1 107.31 426.6 111.51 428.1 115.42 429.6 119.28 431.1 123.33 431.8 125.35" stroke="#2ca02c"/>
</g>
<line x1="431.8" y1="125.45" x2="670.8" y2="125.45" stroke="#367a25" stroke-width="1.25" stroke-linecap="round"/>
<line x1="500.1" y1="0.7" x2="500.1" y2="238.5" stroke="#000" stroke-width="0.85" stroke-dasharray="3.0 1.365"/>
<path d="M378.4 0.4H684.3V238.5H378.4Z" fill="none" stroke="#000" stroke-width="0.62"/>
<path d="M382.9 238.5v1.3M387.65 238.5v1.3M391.9 238.5v2.2M419.87 238.5v1.3M436.22 238.5v1.3M447.83 238.5v1.3M456.83 238.5v1.3M464.19 238.5v1.3M470.41 238.5v1.3M475.8 238.5v1.3M480.55 238.5v1.3M484.8 238.5v2.2M512.77 238.5v1.3M529.12 238.5v1.3M540.73 238.5v1.3M549.73 238.5v1.3M557.09 238.5v1.3M563.31 238.5v1.3M568.7 238.5v1.3M573.45 238.5v1.3M577.7 238.5v2.2M605.67 238.5v1.3M622.02 238.5v1.3M633.63 238.5v1.3M642.63 238.5v1.3M649.99 238.5v1.3M656.21 238.5v1.3M661.6 238.5v1.3M666.35 238.5v1.3M670.6 238.5v2.2M378.4 36.29h-2.2M378.4 80.82h-2.2M378.4 125.35h-2.2M378.4 169.88h-2.2M378.4 214.41h-2.2" stroke="#000" stroke-width="0.62" fill="none"/>
<g font-family="Liberation Serif" fill="#000" stroke="#000" stroke-width="0.1" paint-order="stroke">
<text x="374.6" y="38.59" font-size="6.75" text-anchor="end" >0.2</text>
<text x="374.6" y="83.12" font-size="6.75" text-anchor="end" >0.1</text>
<text x="374.6" y="127.65" font-size="6.75" text-anchor="end" >0.0</text>
<text x="374.6" y="172.18" font-size="6.75" text-anchor="end" >-0.1</text>
<text x="374.6" y="216.71" font-size="6.75" text-anchor="end" >-0.2</text>
<text x="392" y="248.7" font-size="6.8" text-anchor="middle">10<tspan dy="-4.0" font-size="4.9">−3</tspan></text>
<text x="484.9" y="248.7" font-size="6.8" text-anchor="middle">10<tspan dy="-4.0" font-size="4.9">−2</tspan></text>
<text x="577.8" y="248.7" font-size="6.8" text-anchor="middle">10<tspan dy="-4.0" font-size="4.9">−1</tspan></text>
<text x="670.7" y="248.7" font-size="6.8" text-anchor="middle">10<tspan dy="-4.0" font-size="4.9">0</tspan></text>
<text x="531.3" y="256.6" font-size="6.75" text-anchor="middle" >Lambda(λ=0.0146)</text>
<text transform="translate(361.0 119.6) rotate(-90)" font-size="6.75" text-anchor="middle">Coefficients</text>
</g>
<rect x="471.2" y="284.2" width="192.3" height="27.44" fill="#1f77b4"/>
<rect x="471.2" y="339.03" width="122.95" height="27.44" fill="#1f77b4"/>
<rect x="471.2" y="393.86" width="101.51" height="27.44" fill="#1f77b4"/>
<rect x="471.2" y="448.7" width="38.8" height="27.44" fill="#1f77b4"/>
<rect x="409.22" y="503.53" width="61.98" height="27.44" fill="#1f77b4"/>
<rect x="278.17" y="558.36" width="193.03" height="27.44" fill="#1f77b4"/>
<rect x="263.6" y="275.5" width="77.6" height="15.1" rx="1.2" fill="#fff" fill-opacity="0.8" stroke="#d6d6d6" stroke-width="0.7"/>
<rect x="267.2" y="279.1" width="18.6" height="5.7" fill="#1f77b4"/>
<path d="M259.1 270.5H682.5V599.5H259.1Z" fill="none" stroke="#000" stroke-width="0.62"/>
<path d="M259.1 298.22h-3.3M259.1 353.05h-3.3M259.1 407.88h-3.3M259.1 462.72h-3.3M259.1 517.55h-3.3M259.1 572.38h-3.3" stroke="#000" stroke-width="0.8" fill="none"/>
<path d="M277.2 599.5v3.2M325.7 599.5v3.2M374.2 599.5v3.2M422.7 599.5v3.2M471.2 599.5v3.2M519.7 599.5v3.2M568.2 599.5v3.2M616.7 599.5v3.2M665.2 599.5v3.2" stroke="#000" stroke-width="0.85" fill="none"/>
<g font-family="Liberation Serif" fill="#000" stroke="#000" stroke-width="0.22" paint-order="stroke">
<text x="292.6" y="285" font-size="9.08" text-anchor="start" >Coefficients</text>
<text x="253.8" y="301.02" font-size="9.08" text-anchor="end" >wavelet_LHH_ngtdm_Busyness</text>
<text x="253.8" y="355.85" font-size="9.08" text-anchor="end" >square_glszm_LargeAreaLowGrayLevelEmphasis</text>
<text x="253.8" y="410.68" font-size="9.08" text-anchor="end" >wavelet_LHH_glcm_InverseVariance</text>
<text x="253.8" y="465.52" font-size="9.08" text-anchor="end" >lbp_3D_m2_glrlm_ShortRunEmphasis</text>
<text x="253.8" y="520.35" font-size="9.08" text-anchor="end" >wavelet_LLL_firstorder_Median</text>
<text x="253.8" y="575.18" font-size="9.08" text-anchor="end" >exponential_gldm_LargeDependenceHighGrayLevelEmphasis</text>
<text x="277.7" y="611.9" font-size="9.08" text-anchor="middle" >-0.04</text>
<text x="326.2" y="611.9" font-size="9.08" text-anchor="middle" >-0.03</text>
<text x="374.7" y="611.9" font-size="9.08" text-anchor="middle" >-0.02</text>
<text x="423.2" y="611.9" font-size="9.08" text-anchor="middle" >-0.01</text>
<text x="471" y="611.9" font-size="9.08" text-anchor="middle" >0.00</text>
<text x="519.5" y="611.9" font-size="9.08" text-anchor="middle" >0.01</text>
<text x="568" y="611.9" font-size="9.08" text-anchor="middle" >0.02</text>
<text x="616.5" y="611.9" font-size="9.08" text-anchor="middle" >0.03</text>
<text x="665" y="611.9" font-size="9.08" text-anchor="middle" >0.04</text>
<text transform="translate(19.8 435) rotate(-90)" font-size="8.9" text-anchor="middle">feature_name</text>
</g>
<g font-family="Liberation Serif" fill="#000" font-size="27.5">
<text x="-1.1" y="21.8" font-size="27.5" text-anchor="start" >A</text>
<text x="351.2" y="21.9" font-size="27.5" text-anchor="start" >B</text>
<text x="1.7" y="291.9" font-size="27.5" text-anchor="start" >C</text>
</g>
</svg>
</body></html>
